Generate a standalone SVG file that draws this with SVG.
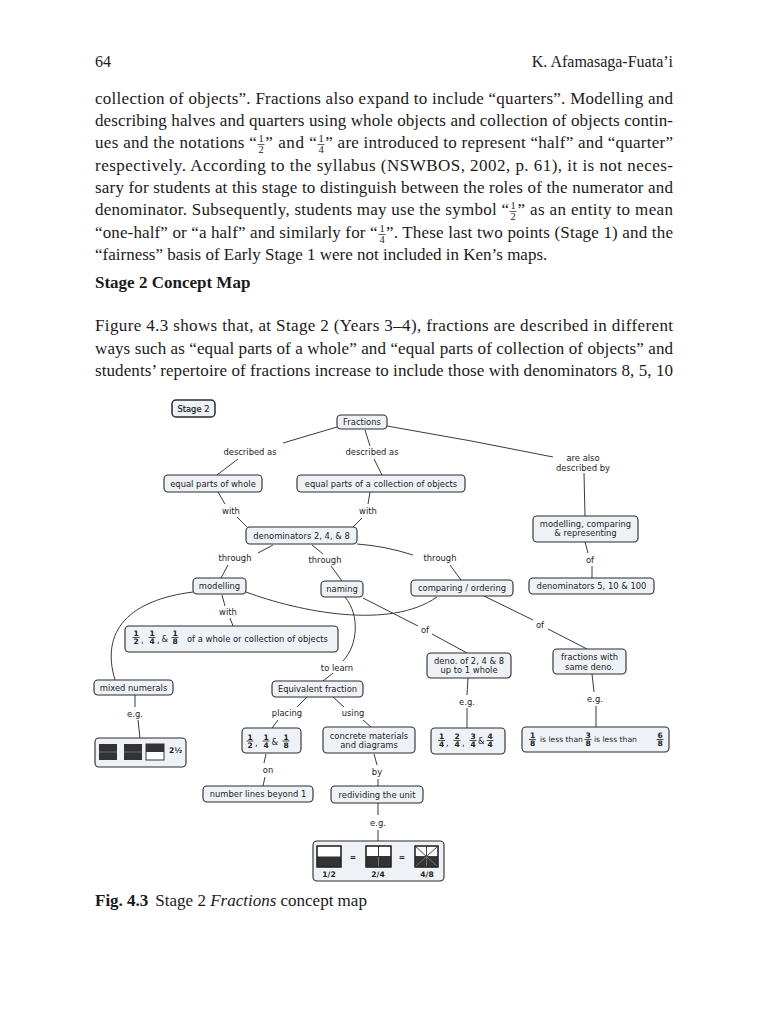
<svg xmlns="http://www.w3.org/2000/svg" width="768" height="1024" viewBox="0 0 768 1024">
<style>
.b{font-family:"Liberation Serif","Times New Roman",serif;font-size:17px;fill:#1a1a1a}
.h{font-family:"Liberation Serif","Times New Roman",serif;font-size:16px;fill:#1a1a1a}
.nf{font-family:"Liberation Serif","Times New Roman",serif;font-size:10.5px;fill:#1a1a1a;text-anchor:middle}
.nb{stroke:#1a1a1a;stroke-width:0.7}
.n rect{fill:#eef2f6;stroke:#2b2b2b;stroke-width:1.1}
.n rect.pic{fill:#fff;stroke:#333;stroke-width:1}
.n rect.dk{fill:#333;stroke:none}
.n rect.fr0{fill:none;stroke:#222;stroke-width:1.2}
.t{font-family:"DejaVu Sans",Verdana,sans-serif;font-size:8.4px;fill:#222;text-anchor:middle}
.ts{font-family:"DejaVu Sans",Verdana,sans-serif;font-size:8.4px;fill:#222}
.sm{font-family:"DejaVu Sans",Verdana,sans-serif;font-size:7.6px;fill:#222}
.fr{font-family:"DejaVu Sans",Verdana,sans-serif;font-size:7.5px;font-weight:bold;fill:#222;text-anchor:middle}
.bar{stroke:#222;stroke-width:0.8}
.c path{fill:none;stroke:#3a3a3a;stroke-width:1}
</style>
<rect width="768" height="1024" fill="#fff"/>

<!-- page text -->
<g id="page-text">
<text class="h" x="95" y="67">64</text>
<text class="h" x="673" y="67" text-anchor="end">K. Afamasaga-Fuata’i</text>
<text class="b" x="95" y="104" textLength="578" lengthAdjust="spacing">collection of objects”. Fractions also expand to include “quarters”. Modelling and</text>
<text class="b" x="95" y="126" textLength="578" lengthAdjust="spacing">describing halves and quarters using whole objects and collection of objects contin-</text>
<text class="b" x="95" y="148" textLength="161.8" lengthAdjust="spacing">ues and the notations “</text>
<text class="nf" x="261" y="142">1</text><line class="nb" x1="257.5" y1="144.5" x2="264.5" y2="144.5"/><text class="nf" x="261" y="152.5">2</text>
<text class="b" x="265.3" y="148" textLength="51.5" lengthAdjust="spacing">” and “</text>
<text class="nf" x="321" y="142">1</text><line class="nb" x1="317.5" y1="144.5" x2="324.5" y2="144.5"/><text class="nf" x="321" y="152.5">4</text>
<text class="b" x="325.3" y="148" textLength="347.7" lengthAdjust="spacing">” are introduced to represent “half” and “quarter”</text>
<text class="b" x="95" y="171" textLength="578" lengthAdjust="spacing">respectively. According to the syllabus (NSWBOS, 2002, p. 61), it is not neces-</text>
<text class="b" x="95" y="193" textLength="578" lengthAdjust="spacing">sary for students at this stage to distinguish between the roles of the numerator and</text>
<text class="b" x="95" y="215" textLength="414" lengthAdjust="spacing">denominator. Subsequently, students may use the symbol “</text>
<text class="nf" x="513" y="209">1</text><line class="nb" x1="509.5" y1="211.5" x2="516.5" y2="211.5"/><text class="nf" x="513" y="219.5">2</text>
<text class="b" x="517.5" y="215" textLength="155.5" lengthAdjust="spacing">” as an entity to mean</text>
<text class="b" x="95" y="238" textLength="282.5" lengthAdjust="spacing">“one-half” or “a half” and similarly for “</text>
<text class="nf" x="382" y="232">1</text><line class="nb" x1="378.5" y1="234.5" x2="385.5" y2="234.5"/><text class="nf" x="382" y="242.5">4</text>
<text class="b" x="386" y="238" textLength="287" lengthAdjust="spacing">”. These last two points (Stage 1) and the</text>
<text class="b" x="95" y="260">“fairness” basis of Early Stage 1 were not included in Ken’s maps.</text>
<text class="b" x="95" y="288" font-weight="bold" font-size="16.5">Stage 2 Concept Map</text>
<text class="b" x="95" y="331" textLength="578" lengthAdjust="spacing">Figure 4.3 shows that, at Stage 2 (Years 3–4), fractions are described in different</text>
<text class="b" x="95" y="354" textLength="578" lengthAdjust="spacing">ways such as “equal parts of a whole” and “equal parts of collection of objects” and</text>
<text class="b" x="95" y="376" textLength="578" lengthAdjust="spacing">students’ repertoire of fractions increase to include those with denominators 8, 5, 10</text>
<text class="b" x="95" y="906" font-size="13"><tspan font-weight="bold">Fig. 4.3</tspan><tspan dx="7">Stage 2 </tspan><tspan font-style="italic">Fractions</tspan><tspan> concept map</tspan></text>
</g>

<!-- connectors -->
<g id="connectors" class="c">
<path d="M337,427 L283,443"/><path d="M238,459 L217,475"/>
<path d="M365,430 L370,446"/><path d="M374,459 L382,475"/>
<path d="M387,426 Q470,440 553,457"/>
<path d="M584,473 L585,516"/>
<path d="M585,542 L588,553"/><path d="M592,566 L592,578"/>
<path d="M218,492 L225,504"/><path d="M237,517 L247,527"/>
<path d="M370,492 L368,504"/><path d="M362,518 L353,527"/>
<path d="M273,545 L258,553"/><path d="M228,565 L221,578"/>
<path d="M312,545 L323,554"/><path d="M331,566 L342,581"/>
<path d="M357,544 Q385,546 413,555"/><path d="M450,565 L461,580"/>
<path d="M222,595 L225,606"/><path d="M230,618 L233,626"/>
<path d="M193,592 C130,600 100,630 115,680"/>
<path d="M246,592 C300,612 390,630 437,597"/>
<path d="M345,597 C360,615 358,645 343,661"/><path d="M333,673 L323,681"/>
<path d="M363,598 L418,626"/><path d="M432,634 L467,653"/>
<path d="M484,596 L533,620"/><path d="M548,629 L587,649"/>
<path d="M135,695 L135,707"/><path d="M138,720 L140,738"/>
<path d="M307,697 L297,707"/><path d="M278,720 L272,728"/>
<path d="M333,697 L344,707"/><path d="M363,720 L371,727"/>
<path d="M266,754 L264,763"/><path d="M265,777 L263,786"/>
<path d="M374,754 L377,765"/><path d="M378,779 L378,786"/>
<path d="M378,803 L378,815"/><path d="M378,830 L378,841"/>
<path d="M468,678 L467,695"/><path d="M467,708 L467,728"/>
<path d="M592,674 L594,692"/><path d="M596,706 L596,727"/>
</g>

<!-- linking phrases -->
<g id="links">
<text class="t" x="250" y="455">described as</text>
<text class="t" x="372" y="455">described as</text>
<text class="t" x="583" y="461">are also</text>
<text class="t" x="583" y="470.5">described by</text>
<text class="t" x="231" y="514">with</text>
<text class="t" x="368" y="514">with</text>
<text class="t" x="235" y="561">through</text>
<text class="t" x="325" y="563">through</text>
<text class="t" x="440" y="561">through</text>
<text class="t" x="590" y="563">of</text>
<text class="t" x="228" y="615">with</text>
<text class="t" x="425" y="633">of</text>
<text class="t" x="540" y="628">of</text>
<text class="t" x="337" y="671">to learn</text>
<text class="t" x="135" y="717">e.g.</text>
<text class="t" x="287" y="716">placing</text>
<text class="t" x="353" y="716">using</text>
<text class="t" x="467" y="705">e.g.</text>
<text class="t" x="595" y="702">e.g.</text>
<text class="t" x="268" y="773">on</text>
<text class="t" x="377" y="775">by</text>
<text class="t" x="378" y="826">e.g.</text>
</g>

<!-- nodes -->
<g id="n-stage2" class="n"><rect x="172" y="400" width="43" height="17" rx="4" style="stroke-width:1.5"/><text class="t" x="193.5" y="411.5" stroke="#222" stroke-width="0.2">Stage 2</text></g>
<g id="n-fractions" class="n"><rect x="337" y="415" width="50" height="14" rx="4"/><text class="t" x="362" y="425">Fractions</text></g>
<g id="n-whole" class="n"><rect x="164" y="475" width="98" height="17" rx="4"/><text class="t" x="213" y="486.5">equal parts of whole</text></g>
<g id="n-collection" class="n"><rect x="297" y="475" width="168" height="17" rx="4"/><text class="t" x="381" y="486.5">equal parts of a collection of objects</text></g>
<g id="n-den248" class="n"><rect x="246" y="527" width="111" height="17" rx="4"/><text class="t" x="301.5" y="538.5">denominators 2, 4, &amp; 8</text></g>
<g id="n-mcr" class="n"><rect x="533" y="516" width="105" height="26" rx="4"/><text class="t" x="585.5" y="527">modelling, comparing</text><text class="t" x="585.5" y="536">&amp; representing</text></g>
<g id="n-den510" class="n"><rect x="529" y="578" width="125" height="16" rx="4"/><text class="t" x="591.5" y="589">denominators 5, 10 &amp; 100</text></g>
<g id="n-modelling" class="n"><rect x="193" y="578" width="53" height="16" rx="4"/><text class="t" x="219.5" y="589">modelling</text></g>
<g id="n-naming" class="n"><rect x="321" y="581" width="42" height="16" rx="4"/><text class="t" x="342" y="592">naming</text></g>
<g id="n-comparing" class="n"><rect x="411" y="580" width="102" height="16" rx="4"/><text class="t" x="462" y="591">comparing / ordering</text></g>
<g id="n-halves" class="n"><rect x="125" y="626" width="213" height="26" rx="4"/>
<text class="fr" x="136" y="636.2">1</text><line class="bar" x1="132.5" y1="637.5" x2="139.5" y2="637.5"/><text class="fr" x="136" y="644.3">2</text>
<text class="ts" x="141" y="643">,</text>
<text class="fr" x="152" y="636.2">1</text><line class="bar" x1="148.5" y1="637.5" x2="155.5" y2="637.5"/><text class="fr" x="152" y="644.3">4</text>
<text class="ts" x="157" y="643">,</text><text class="ts" x="161.5" y="641.5">&amp;</text>
<text class="fr" x="175" y="636.2">1</text><line class="bar" x1="171.5" y1="637.5" x2="178.5" y2="637.5"/><text class="fr" x="175" y="644.3">8</text>
<text class="ts" x="187" y="642">of a whole or collection of objects</text></g>
<g id="n-mixed" class="n"><rect x="94" y="680" width="79" height="15" rx="4"/><text class="t" x="133.5" y="690.5">mixed numerals</text></g>
<g id="n-equiv" class="n"><rect x="272" y="681" width="91" height="16" rx="4"/><text class="t" x="317.5" y="692">Equivalent fraction</text></g>
<g id="n-deno124" class="n"><rect x="427" y="653" width="84" height="25" rx="4"/><text class="t" x="469" y="664">deno. of 2, 4 &amp; 8</text><text class="t" x="469" y="673">up to 1 whole</text></g>
<g id="n-samedeno" class="n"><rect x="553" y="649" width="73" height="25" rx="4"/><text class="t" x="589.5" y="660">fractions with</text><text class="t" x="589.5" y="669.5">same deno.</text></g>
<g id="n-mixedpic" class="n"><rect x="95" y="738" width="91" height="29" rx="4"/>
<rect x="99" y="744" width="18" height="16" class="dk"/><line x1="99" y1="752" x2="117" y2="752" stroke="#777" stroke-width="0.8"/>
<rect x="124" y="744" width="18" height="16" class="dk"/><line x1="124" y1="752" x2="142" y2="752" stroke="#777" stroke-width="0.8"/>
<rect x="146" y="744" width="18" height="16" class="pic"/><rect x="146" y="744" width="18" height="8" class="dk"/>
<text class="sm" x="169" y="753" font-weight="bold" font-size="7">2½</text></g>
<g id="n-halves2" class="n"><rect x="242" y="728" width="59" height="25" rx="4"/>
<text class="fr" x="250" y="739.7">1</text><line class="bar" x1="246.5" y1="741" x2="253.5" y2="741"/><text class="fr" x="250" y="747.8">2</text>
<text class="ts" x="255" y="746">,</text>
<text class="fr" x="266" y="739.7">1</text><line class="bar" x1="262.5" y1="741" x2="269.5" y2="741"/><text class="fr" x="266" y="747.8">4</text>
<text class="ts" x="271.5" y="744.5">&amp;</text>
<text class="fr" x="286" y="739.7">1</text><line class="bar" x1="282.5" y1="741" x2="289.5" y2="741"/><text class="fr" x="286" y="747.8">8</text></g>
<g id="n-concrete" class="n"><rect x="323" y="727" width="92" height="26" rx="4"/><text class="t" x="369" y="739">concrete materials</text><text class="t" x="369" y="747.5">and diagrams</text></g>
<g id="n-quarters" class="n"><rect x="431" y="728" width="74" height="26" rx="4"/>
<text class="fr" x="441.5" y="739.2">1</text><line class="bar" x1="438" y1="740.5" x2="445" y2="740.5"/><text class="fr" x="441.5" y="747.3">4</text>
<text class="ts" x="446" y="746">,</text>
<text class="fr" x="457" y="739.2">2</text><line class="bar" x1="453.5" y1="740.5" x2="460.5" y2="740.5"/><text class="fr" x="457" y="747.3">4</text>
<text class="ts" x="462" y="746">,</text>
<text class="fr" x="473" y="739.2">3</text><line class="bar" x1="469.5" y1="740.5" x2="476.5" y2="740.5"/><text class="fr" x="473" y="747.3">4</text>
<text class="ts" x="478" y="744">&amp;</text>
<text class="fr" x="490" y="739.2">4</text><line class="bar" x1="486.5" y1="740.5" x2="493.5" y2="740.5"/><text class="fr" x="490" y="747.3">4</text></g>
<g id="n-lessthan" class="n"><rect x="522" y="727" width="147" height="25" rx="4"/>
<text class="fr" x="532.5" y="738.2">1</text><line class="bar" x1="529" y1="739.5" x2="536" y2="739.5"/><text class="fr" x="532.5" y="746.3">8</text>
<text class="sm" x="540" y="742">is less than</text>
<text class="fr" x="588" y="738.2">3</text><line class="bar" x1="584.5" y1="739.5" x2="591.5" y2="739.5"/><text class="fr" x="588" y="746.3">8</text>
<text class="sm" x="594" y="742">is less than</text>
<text class="fr" x="660" y="738.2">6</text><line class="bar" x1="656.5" y1="739.5" x2="663.5" y2="739.5"/><text class="fr" x="660" y="746.3">8</text></g>
<g id="n-numline" class="n"><rect x="203" y="786" width="110" height="16" rx="4"/><text class="t" x="258" y="797">number lines beyond 1</text></g>
<g id="n-redivide" class="n"><rect x="331" y="786" width="92" height="17" rx="4"/><text class="t" x="377" y="797.5">redividing the unit</text></g>
<g id="n-finalpic" class="n"><rect x="313" y="841" width="131" height="40" rx="4"/>
<rect x="317" y="846" width="24" height="21" class="pic"/><rect x="317" y="856.5" width="24" height="10.5" class="dk"/>
<text class="sm" x="353" y="860" text-anchor="middle" font-weight="bold" font-size="9">=</text>
<rect x="366" y="846" width="25" height="21" class="pic"/><rect x="366" y="856.5" width="25" height="10.5" class="dk"/>
<line x1="378.5" y1="846" x2="378.5" y2="856.5" stroke="#333" stroke-width="1"/><line x1="378.5" y1="856.5" x2="378.5" y2="867" stroke="#888" stroke-width="0.8"/><line x1="366" y1="856.5" x2="391" y2="856.5" stroke="#333" stroke-width="1"/>
<text class="sm" x="402" y="860" text-anchor="middle" font-weight="bold" font-size="9">=</text>
<rect x="415" y="846" width="23" height="21" class="pic"/><rect x="415" y="856.5" width="23" height="10.5" class="dk"/>
<path d="M415,846 L426.5,856.5 L438,846 M426.5,846 L426.5,856.5 M415,856.5 L438,856.5" stroke="#333" stroke-width="0.9" fill="none"/>
<path d="M426.5,856.5 L415,867 M426.5,856.5 L438,867 M426.5,856.5 L426.5,867" stroke="#888" stroke-width="0.7" fill="none"/>
<rect x="317" y="846" width="24" height="21" class="fr0"/>
<rect x="366" y="846" width="25" height="21" class="fr0"/>
<rect x="415" y="846" width="23" height="21" class="fr0"/>
<text class="sm" x="329" y="877" text-anchor="middle" font-weight="bold" font-size="6.5">1/2</text>
<text class="sm" x="378" y="877" text-anchor="middle" font-weight="bold" font-size="6.5">2/4</text>
<text class="sm" x="427" y="877" text-anchor="middle" font-weight="bold" font-size="6.5">4/8</text></g>
</svg>
